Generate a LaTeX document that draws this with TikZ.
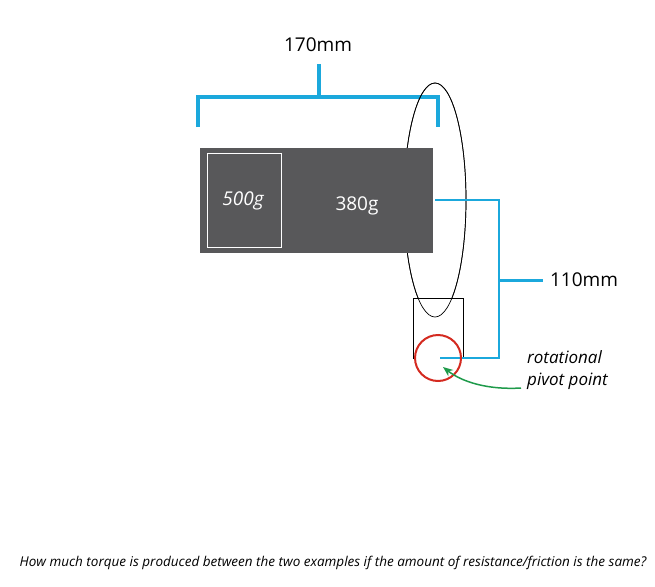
\documentclass[tikz,border=0pt]{standalone}
\usepackage{fontspec}
\setmainfont{Open Sans}
\usetikzlibrary{arrows.meta}
\definecolor{cblue}{HTML}{1BA8DC}
\definecolor{cdark}{HTML}{58585A}
\definecolor{cred}{HTML}{D42A20}
\definecolor{cgreen}{HTML}{1E9A4A}
\begin{document}
\begin{tikzpicture}[x=1pt,y=-1pt,
  bl/.style={draw=cblue,line width=3.5pt},
  bt/.style={draw=cblue,line width=1.5pt},
  lab/.style={inner sep=0pt,font=\fontsize{19}{22}\selectfont}]
\useasboundingbox (0,0) rectangle (655,586);
% bracket top
\draw[bl] (198,127) -- (198,97) -- (438,97) -- (438,127);
\draw[bl] (319,97) -- (319,64);
\node[lab] (t170) at (318,45) {170mm};
% ellipse
\draw[line width=0.7pt] (435,200) ellipse [x radius=31, y radius=117];
\fill[white] (414,299) rectangle (462,358);
\draw[line width=0.7pt] (413,359) -- (413,298) -- (463,298) -- (463,359);
\draw[line width=0.7pt] (435,200) ellipse [x radius=31, y radius=117];
% block
\node[fill=cdark,minimum width=233pt,minimum height=105pt,inner sep=0,anchor=north west] (blk) at (200,148) {};
\node[draw=white,line width=0.7pt,minimum width=74pt,minimum height=94pt,inner sep=0,anchor=north west] (inner) at (207,153) {};
\node[lab,text=white] (m500) at (243,201) {\itshape 500g};
\node[lab,text=white] (m380) at (357,206) {380g};
% right bracket
\coordinate (a) at (435,200);
\coordinate (p) at (440,358);
\draw[bt] (a) -- (499,200) -- (499,358) -- (p);
\draw[bl,line width=3pt] (499,280) -- (543,280);
\node[lab] (t110) at (584,280) {110mm};
% pivot
\draw[cred,line width=2pt] (438,358) circle (23);
\node[lab,anchor=west,align=left,font=\fontsize{17}{22}\selectfont\itshape] (piv) at (527,370) {rotational\\pivot point};
\draw[cgreen,line width=1.5pt,-{Stealth[length=10pt,width=8pt]}] (521,388) .. controls (488,390) and (462,382) .. (443,367);
\node[lab,font=\fontsize{13.5}{16}\selectfont\itshape] (q) at (333,563) {How much torque is produced between the two examples if the amount of resistance/friction is the same?};
\end{tikzpicture}
\end{document}
